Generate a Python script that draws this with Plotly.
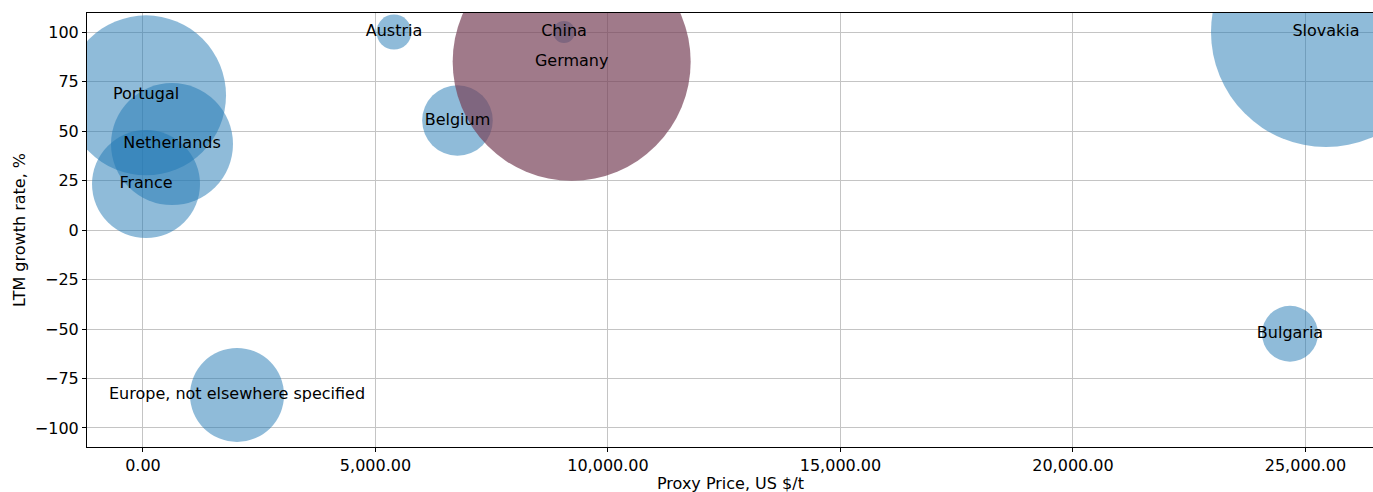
import plotly.graph_objects as go

countries = ["Portugal", "Netherlands", "France", "Austria", "China", "Belgium",
             "Europe, not elsewhere specified", "Slovakia", "Bulgaria", "Germany"]
proxy_price = [65, 624, 65, 5398, 9054, 6763, 2022, 25441, 24667, 9219]
growth_rate = [68.0, 43.4, 23.2, 100.0, 100.0, 55.3, -83.3, 100.0, -52.4, 85.0]
volume = [6400, 3721, 2916, 306, 121, 1246, 2209, 13225, 784, 14161]
highlight = "Germany"

x_ticks = [0, 5000, 10000, 15000, 20000, 25000]
x_tick_text = ["0.00", "5,000.00", "10,000.00", "15,000.00", "20,000.00", "25,000.00"]
y_ticks = [-100, -75, -50, -25, 0, 25, 50, 75, 100]
y_tick_text = ["\u2212100", "\u221275", "\u221250", "\u221225", "0", "25", "50", "75", "100"]

FONT = "DejaVu Sans"
BLUE = "rgba(31,119,180,0.5)"
HL = "rgba(119,65,88,0.7)"
SIZEREF = 0.5

fig = go.Figure()

idx_o = [i for i, c in enumerate(countries) if c != highlight]
idx_h = [i for i, c in enumerate(countries) if c == highlight]

for idxs, col in ((idx_o, BLUE), (idx_h, HL)):
    fig.add_trace(go.Scatter(
        x=[proxy_price[i] for i in idxs],
        y=[growth_rate[i] for i in idxs],
        mode="markers",
        marker=dict(size=[volume[i] for i in idxs], sizemode="area", sizeref=SIZEREF,
                    color=col, opacity=1, line=dict(width=0)),
        hoverinfo="skip", showlegend=False, cliponaxis=True,
    ))

fig.add_trace(go.Scatter(
    x=proxy_price, y=growth_rate, mode="text", text=countries,
    textposition="middle center",
    textfont=dict(family=FONT, size=16, color="black"),
    showlegend=False, hoverinfo="skip", cliponaxis=False,
))

axis_common = dict(
    showgrid=True, gridcolor="#c4c4c4", gridwidth=1,
    showline=True, linecolor="black", linewidth=1,
    ticks="outside", ticklen=4, tickcolor="black", tickwidth=1,
    tickfont=dict(family=FONT, size=16, color="black"),
    zeroline=False, layer="above traces",
)

fig.update_layout(
    width=1373, height=492,
    margin=dict(l=87, r=0, t=13, b=45),
    paper_bgcolor="white", plot_bgcolor="white",
    xaxis=dict(range=[-1204, 26452], tickvals=x_ticks, ticktext=x_tick_text,
               mirror=True, **axis_common),
    yaxis=dict(range=[-109.6, 109.6], tickvals=y_ticks, ticktext=y_tick_text,
               mirror=False, **axis_common),
    font=dict(family=FONT, size=16, color="black"),
    hovermode=False,
    annotations=[
        dict(text="Proxy Price, US $/t", xref="paper", yref="paper", x=0.5, y=0,
             yshift=-48, xanchor="center", yanchor="bottom", showarrow=False,
             font=dict(family=FONT, size=16, color="black")),
        dict(text="LTM growth rate, %", xref="paper", yref="paper", x=0, y=0.5,
             xshift=-68, textangle=-90, xanchor="center", yanchor="middle",
             showarrow=False, font=dict(family=FONT, size=16, color="black")),
    ],
)

fig.write_html("out.html", config={"displayModeBar": False},
               post_script="document.body.style.margin='0';document.body.style.overflow='hidden';")
